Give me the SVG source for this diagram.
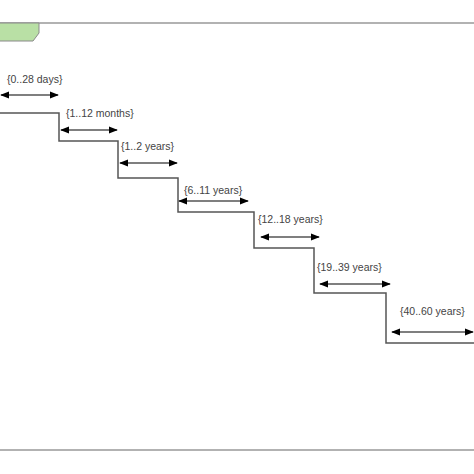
<svg xmlns="http://www.w3.org/2000/svg" width="474" height="474" viewBox="0 0 474 474">
<defs>
<style>
.lbl{font-family:"Liberation Sans",Arial,sans-serif;font-size:10.5px;fill:#444}
.arr{stroke:#000;stroke-width:1.2;fill:none;marker-start:url(#ah);marker-end:url(#ah)}
.frame{stroke:#999;stroke-width:1.5;fill:none}
</style>
<marker id="ah" viewBox="0 0 10 10" refX="9" refY="5" markerWidth="9" markerHeight="9" markerUnits="userSpaceOnUse" orient="auto-start-reverse">
<path d="M0,1 L10,5 L0,9 Z" fill="#000"/>
</marker>
</defs>
<rect width="474" height="474" fill="#fff"/>
<g id="frame">
<line class="frame" x1="0" y1="23" x2="474" y2="23"/>
<line class="frame" x1="0" y1="450" x2="474" y2="450"/>
<path d="M-1,23 H39 V33 L33,41 H-1 Z" fill="#b9e0a5" stroke="#8a8a8a" stroke-width="1"/>
</g>
<g id="staircase">
<path d="M0,113 H59 V141 H118 V178 H178 V212 H254 V248 H314 V293 H386 V343 H474" fill="none" stroke="#555" stroke-width="1.5"/>
</g>
<g id="connectors">
<line class="arr" x1="1" y1="95" x2="58" y2="95"/>
<line class="arr" x1="61" y1="130" x2="117" y2="130"/>
<line class="arr" x1="120" y1="163" x2="177" y2="163"/>
<line class="arr" x1="179" y1="201" x2="248" y2="201"/>
<line class="arr" x1="261" y1="237" x2="319" y2="237"/>
<line class="arr" x1="320" y1="284" x2="390" y2="284"/>
<line class="arr" x1="392" y1="332" x2="473" y2="332"/>
</g>
<g id="labels">
<text class="lbl" x="7" y="83">{0..28 days}</text>
<text class="lbl" x="66" y="117">{1..12 months}</text>
<text class="lbl" x="121" y="150">{1..2 years}</text>
<text class="lbl" x="184" y="194">{6..11 years}</text>
<text class="lbl" x="258" y="223">{12..18 years}</text>
<text class="lbl" x="317" y="271">{19..39 years}</text>
<text class="lbl" x="400" y="315">{40..60 years}</text>
</g>
</svg>
